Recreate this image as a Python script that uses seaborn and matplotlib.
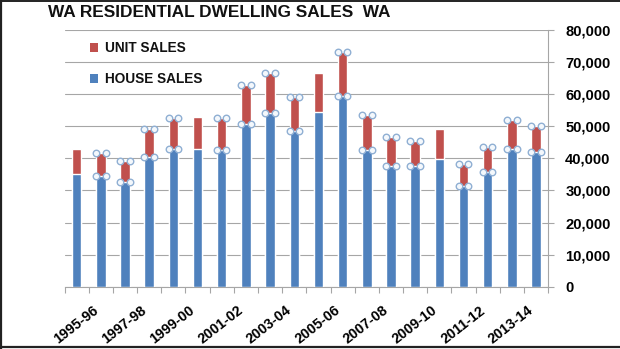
import matplotlib
matplotlib.use("Agg")
import matplotlib.pyplot as plt
import seaborn as sns
import pandas as pd
import numpy as np
from matplotlib.patches import Patch
from matplotlib.lines import Line2D
from matplotlib.ticker import FuncFormatter, FixedLocator

# ---- data ----
categories = ["1994-95", "1995-96", "1996-97", "1997-98", "1998-99", "1999-00",
              "2000-01", "2001-02", "2002-03", "2003-04", "2004-05", "2005-06",
              "2006-07", "2007-08", "2008-09", "2009-10", "2010-11", "2011-12",
              "2012-13", "2013-14"]
house_sales = [35200, 34600, 32600, 40500, 42800, 42800, 42600, 50700, 54100, 48400,
               54500, 59500, 42700, 37500, 37500, 39900, 31300, 35900, 42900, 41900]
unit_sales = [7700, 7100, 6600, 8500, 9900, 10200, 10100, 12200, 12500, 10700,
              12100, 13700, 10900, 9200, 7900, 9300, 6800, 7600, 9200, 8200]
# bars that carry selection handles in the reference
handle_flags = [0, 1, 1, 1, 1, 0, 1, 1, 1, 1, 0, 1, 1, 1, 1, 0, 1, 1, 1, 1]
title_text = "WA RESIDENTIAL DWELLING SALES  WA"
series_names = ["UNIT SALES", "HOUSE SALES"]
y_ticks = [0, 10000, 20000, 30000, 40000, 50000, 60000, 70000, 80000]

df = pd.DataFrame({"period": categories, "house": house_sales, "unit": unit_sales})
df["total"] = df["house"] + df["unit"]

BLUE = "#4F81BD"
RED = "#C0504D"
GRID = "#A6A6A6"
FONT = ["Liberation Sans", "DejaVu Sans"]

sns.set_theme(style="white")
plt.rcParams["font.family"] = FONT
plt.rcParams["font.weight"] = "bold"

W, H = 620, 349
fig = plt.figure(figsize=(W / 100, H / 100), dpi=100)
ax_l, ax_r, ax_t, ax_b = 64.6, 548.1, 30.0, 286.7
ax = fig.add_axes([ax_l / W, 1 - ax_b / H, (ax_r - ax_l) / W, (ax_b - ax_t) / H])

bw = 0.39
sns.barplot(data=df, x="period", y="total", color=RED, width=bw, saturation=1,
            errorbar=None, ax=ax, zorder=3)
sns.barplot(data=df, x="period", y="house", color=BLUE, width=bw, saturation=1,
            errorbar=None, ax=ax, zorder=4)

# selection handles at corners of the red segment
xs, ys = [], []
for i, (flag, h, t) in enumerate(zip(handle_flags, df["house"], df["total"])):
    if flag:
        for dx in (-bw / 2, bw / 2):
            xs += [i + dx, i + dx]
            ys += [t, h]
ax.scatter(xs, ys, s=22, facecolor="#F4F8FC", edgecolor="#8FAFD3", linewidth=1.0, zorder=6)

ax.set_xlim(-0.5, len(categories) - 0.5)
ax.set_ylim(0, 80000)
ax.set_xlabel("")
ax.set_ylabel("")

# y axis on the right
ax.yaxis.tick_right()
ax.set_yticks(y_ticks)
ax.yaxis.set_major_formatter(FuncFormatter(lambda v, p: f"{int(v):,}"))
ax.tick_params(axis="y", which="major", right=True, left=False, direction="out",
               length=4, width=0.8, color=GRID, pad=8.3, labelsize=10.6,
               labelcolor="black")
ax.grid(axis="y", color=GRID, linewidth=0.8, zorder=0)
ax.grid(axis="x", visible=False)
ax.set_axisbelow(True)

# x axis: labels every other period, ticks on category boundaries
lab_pos = list(range(1, len(categories), 2))
ax.xaxis.set_major_locator(FixedLocator(lab_pos))
ax.set_xticklabels([categories[i] for i in lab_pos], rotation=38, ha="right",
                   rotation_mode="default")
ax.xaxis.set_minor_locator(FixedLocator(np.arange(-0.5, len(categories), 1.0)))
ax.tick_params(axis="x", which="major", length=0, pad=12.0, labelsize=10.3,
               labelcolor="black")
ax.tick_params(axis="x", which="minor", bottom=True, direction="out", length=4,
               width=0.8, color=GRID)
for lab in ax.get_xticklabels() + ax.get_yticklabels():
    lab.set_fontweight("bold")

for side in ("top", "left"):
    ax.spines[side].set_visible(False)
for side in ("right", "bottom"):
    ax.spines[side].set_visible(True)
    ax.spines[side].set_color(GRID)
    ax.spines[side].set_linewidth(0.8)

# title
fig.text(48 / W, 1 - 16.7 / H, title_text, ha="left", va="baseline",
         fontsize=12.4, fontweight="bold", color="#111111")

# legend
handles = [Patch(facecolor=RED, edgecolor="none"), Patch(facecolor=BLUE, edgecolor="none")]
leg = ax.legend(handles, series_names, loc="upper left",
                bbox_to_anchor=(90.0 / W, 1 - 41.0 / H), bbox_transform=fig.transFigure,
                frameon=False, borderpad=0, borderaxespad=0, handlelength=0.6,
                handleheight=0.6, handletextpad=0.5, labelspacing=1.25,
                prop={"weight": "bold", "size": 9.8, "family": FONT})
for t in leg.get_texts():
    t.set_color("#111111")

# picture border (left, top, bottom)
fig.add_artist(Line2D([1.0 / W, 1.0 / W], [0, 1], transform=fig.transFigure,
                      color="#222222", lw=1.6))
fig.add_artist(Line2D([0, 1], [1 - 0.6 / H, 1 - 0.6 / H], transform=fig.transFigure,
                      color="#222222", lw=1.4))
fig.add_artist(Line2D([0, 1], [1.8 / H, 1.8 / H], transform=fig.transFigure,
                      color="#222222", lw=1.6))

fig.savefig("out.png", dpi=100, facecolor="white")
